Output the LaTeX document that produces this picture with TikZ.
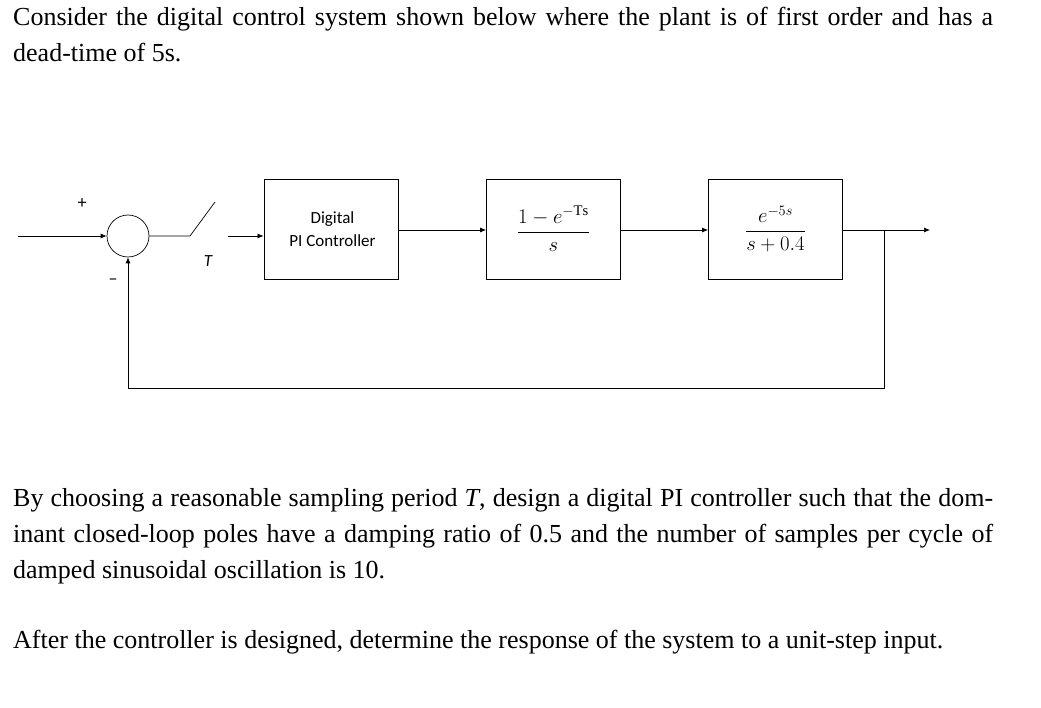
\documentclass[tikz,border=0pt]{standalone}
\usepackage{fontspec}
\setmainfont{Liberation Serif}
\newfontfamily\carlitofont{Carlito}
\usetikzlibrary{arrows.meta}
\begin{document}
\begin{tikzpicture}[x=1pt,y=-1pt,
  blk/.style={draw,line width=0.8pt,minimum width=134pt,minimum height=100pt,inner sep=0pt},
  mth/.style={font=\fontsize{21}{25}\selectfont},
  sig/.style={line width=0.7pt,-{Latex[length=6pt,width=5pt]}},
  ln/.style={line width=0.7pt},
  para/.style={anchor=north west,text width=980pt,align=justify,font=\fontsize{26}{36}\selectfont,inner sep=0pt}]
\useasboundingbox (0,0) rectangle (1041,708);
\node[para] (p1) at (13,7) {Consider the digital control system shown below where the plant is of first order and has a dead-time of 5s.};
\node[para] (p2) at (13,488) {By choosing a reasonable sampling period \textit{T}, design a digital PI controller such that the dominant closed-loop poles have a damping ratio of 0.5 and the number of samples per cycle of damped sinusoidal oscillation is 10.};
\node[para] (p3) at (13,630) {After the controller is designed, determine the response of the system to a unit-step input.};
\node[circle,draw,line width=0.7pt,minimum size=42pt,inner sep=0pt] (sum) at (128,236) {};
\coordinate (in) at (18,236);
\coordinate (sw1) at (190,236);
\coordinate (sw2) at (215,202);
\coordinate (sw3) at (228,236);
\node[blk,font=\carlitofont\fontsize{17}{23}\selectfont,align=center] (b1) at (331,229) {\hspace*{3pt}Digital\\\hspace*{3pt}PI Controller};
\node[blk,mth] (b2) at (553.5,229) {$\displaystyle\frac{1-e^{-\mathrm{Ts}}}{s}$};
\node[blk,mth] (b3) at (775.5,229) {$\displaystyle\frac{e^{-5s}}{s+0.4}$};
\coordinate (out) at (930,230);
\coordinate (br) at (884,230);
\coordinate (c1) at (884,388);
\coordinate (c2) at (128,388);
\draw[sig] (in) -- (sum.west);
\draw[ln] (sum.east) -- (sw1) -- (sw2);
\draw[sig] (sw3) -- (b1.west |- sw3);
\draw[sig] (b1.east |- out) -- (b2.west |- out);
\draw[sig] (b2.east |- out) -- (b3.west |- out);
\draw[sig] (b3.east |- out) -- (out);
\draw[sig] (br) -- (c1) -- (c2) -- (sum.south);
\node[font=\carlitofont\fontsize{18}{18}\selectfont] (plus) at (82,204) {+};
\node[font=\carlitofont\fontsize{18}{18}\selectfont] (minus) at (113,282) {\textendash};
\node[font=\carlitofont\itshape\fontsize{17}{17}\selectfont] (T) at (208,261) {T};
\end{tikzpicture}
\end{document}
